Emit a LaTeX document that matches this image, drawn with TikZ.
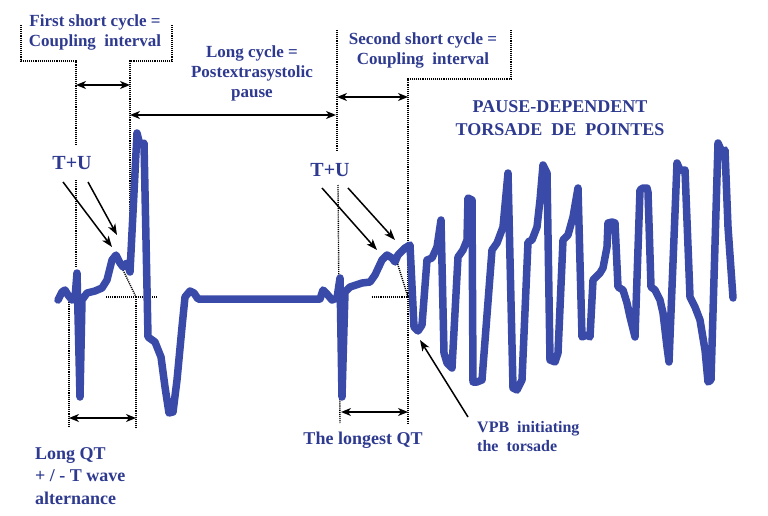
\documentclass[tikz,border=0pt]{standalone}
\usepackage{fontspec}
\setmainfont{Liberation Serif}
\usetikzlibrary{arrows.meta}
\definecolor{ecgBlue}{HTML}{3A4AA8}
\definecolor{txtBlue}{HTML}{2E3A8F}

\tikzset{
  lbl/.style={text=txtBlue, font=\fontsize{17}{20}\selectfont\bfseries, align=center, inner sep=0pt},
  guide/.style={line width=1.4pt, dash pattern=on 1.1pt off 1pt},
  dim/.style={line width=1.5pt, {Stealth[length=10pt,width=8pt,inset=3pt]}-{Stealth[length=10pt,width=8pt,inset=3pt]}},
  pointer/.style={line width=1.5pt, -{Stealth[length=11pt,width=8pt,inset=3pt]}},
  trace/.style={ecgBlue, line width=7.5pt, line join=round, line cap=round}
}

\begin{document}
\begin{tikzpicture}[x=1pt, y=-1pt]
  \useasboundingbox (0,0) rectangle (768,516);

  % labels
  \node[lbl] (first) at (95,32) {First short cycle =\\Coupling\ \ interval};
  \node[lbl] (long) at (252,73) {Long cycle =\\Postextrasystolic\\pause};
  \node[lbl] (second) at (423,50) {Second short cycle =\\Coupling\ \ interval};
  \node[lbl, font=\fontsize{18}{23}\selectfont\bfseries] (tdp) at (560,118)
    {PAUSE-DEPENDENT\\TORSADE\ \ DE\ \ POINTES};
  \node[lbl, font=\fontsize{20}{24}\selectfont\bfseries] (tu1) at (72,163) {T+U};
  \node[lbl, font=\fontsize{20}{24}\selectfont\bfseries] (tu2) at (330,170) {T+U};
  \node[lbl, font=\fontsize{18}{22.5}\selectfont\bfseries, anchor=west, align=left] (lqt) at (35,476)
    {Long QT\\+ / - T wave\\alternance};
  \node[lbl, font=\fontsize{18}{22}\selectfont\bfseries] (tlqt) at (363,440) {The longest QT};
  \node[lbl, font=\fontsize{16}{19}\selectfont\bfseries, anchor=west, align=left] (vpb) at (477,437)
    {VPB\ \ initiating\\the\ \ torsade};

  % dotted guides
  \draw[guide] (21,25) -- (21,61) -- (76,61) -- (76,145);
  \draw[guide] (76,180) -- (76,267);
  \draw[guide] (172,25) -- (172,61) -- (130,61) -- (130,270);
  \draw[guide] (337,30) -- (337,150);
  \draw[guide] (338,185) -- (340,423);
  \draw[guide] (511,30) -- (511,79) -- (408,79) -- (408,423);
  \draw[guide] (69,300) -- (69,428);
  \draw[guide] (136,297) -- (136,428);
  \draw[guide] (106,297) -- (157,297);
  \draw[guide] (123,270) -- (136,297);
  \draw[guide] (372,297) -- (415,297);
  \draw[guide] (397,262) -- (408,297);

  % ECG trace
  \draw[trace] (58,300) -- (62,292) -- (65,290) -- (68,295) -- (72,300) -- (75,298)
    -- (77,273) -- (80,397) -- (82,300) -- (87,293) -- (95,291) -- (102,288)
    -- (107,280) -- (112,260) -- (116,255) -- (120,263) -- (123,267) -- (127,263)
    -- (130,272) -- (137,133) -- (140,145) -- (144,143) -- (148,337) -- (155,342)
    -- (161,357) -- (165,387) -- (169,413) -- (173,412) -- (177,380) -- (182,327)
    -- (185,297) -- (190,291) -- (194,293) -- (198,299) -- (320,299) -- (323,290)
    -- (327,294) -- (332,300) -- (337,298) -- (340,278) -- (342,397) -- (345,292)
    -- (350,287) -- (362,283) -- (370,282) -- (375,275) -- (382,260) -- (387,255)
    -- (392,258) -- (395,262) -- (398,255) -- (405,248) -- (410,245) -- (414,327)
    -- (418,331) -- (422,325) -- (427,260) -- (432,258) -- (437,247) -- (441,220)
    -- (444,353) -- (447,363) -- (452,368) -- (458,257) -- (463,250) -- (467,240)
    -- (468,198) -- (472,200) -- (473,382) -- (477,382) -- (482,380) -- (492,250)
    -- (497,243) -- (503,227) -- (508,173) -- (513,388) -- (517,390) -- (522,380)
    -- (528,242) -- (532,240) -- (537,227) -- (540,200) -- (543,165) -- (547,173)
    -- (550,360) -- (555,362) -- (558,353) -- (563,240) -- (568,235) -- (573,217)
    -- (578,188) -- (582,337) -- (587,335) -- (590,337) -- (593,280) -- (600,273)
    -- (603,268) -- (607,247) -- (608,223) -- (612,222) -- (615,223) -- (618,287)
    -- (623,290) -- (627,303) -- (630,317) -- (635,337) -- (640,190) -- (643,188)
    -- (647,188) -- (648,192) -- (651,287) -- (655,290) -- (660,300) -- (663,313)
    -- (667,347) -- (669,362) -- (677,163) -- (680,170) -- (685,170) -- (690,297)
    -- (695,307) -- (700,320) -- (705,350) -- (708,382) -- (711,380) -- (718,143)
    -- (722,152) -- (725,150) -- (728,227) -- (733,298);

  % interval arrows
  \coordinate (s1a) at (76,85);   \coordinate (s1b) at (130,85);
  \coordinate (lpa) at (130,115); \coordinate (lpb) at (336,115);
  \coordinate (s2a) at (337,97);  \coordinate (s2b) at (408,97);
  \coordinate (q1a) at (69,418);  \coordinate (q1b) at (136,418);
  \coordinate (q2a) at (341,412); \coordinate (q2b) at (408,412);
  \draw[dim] (s1a) -- (s1b);
  \draw[dim] (lpa) -- (lpb);
  \draw[dim] (s2a) -- (s2b);
  \draw[dim] (q1a) -- (q1b);
  \draw[dim] (q2a) -- (q2b);

  % pointers
  \coordinate (t1a) at (63,182);  \coordinate (t1b) at (112,247);
  \coordinate (u1a) at (88,182);  \coordinate (u1b) at (117,235);
  \coordinate (t2a) at (322,188); \coordinate (t2b) at (377,250);
  \coordinate (u2a) at (348,188); \coordinate (u2b) at (395,240);
  \coordinate (va) at (468,417);  \coordinate (vb) at (420,340);
  \draw[pointer] (t1a) -- (t1b);
  \draw[pointer] (u1a) -- (u1b);
  \draw[pointer] (t2a) -- (t2b);
  \draw[pointer] (u2a) -- (u2b);
  \draw[pointer] (va) -- (vb);
\end{tikzpicture}
\end{document}
